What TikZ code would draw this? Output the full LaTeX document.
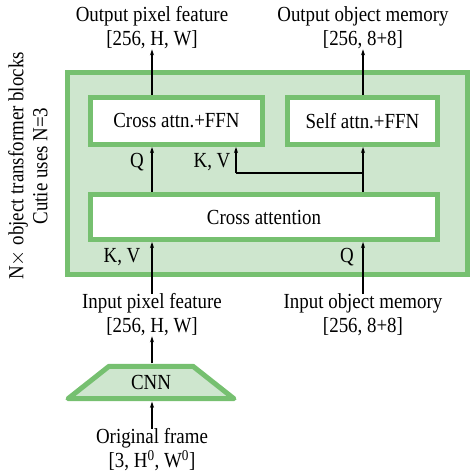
\documentclass[tikz,border=0pt]{standalone}
\usepackage{fontspec}
\setmainfont[FakeStretch=0.88]{Liberation Serif}
\usepackage{tikz}
\usetikzlibrary{shapes,arrows.meta,positioning,calc}

\definecolor{blockgreen}{RGB}{118,192,112}
\definecolor{blockfill}{RGB}{206,230,206}

\tikzset{
    flowarrow/.style={line width=1.1pt, -{Stealth[length=6pt,width=4pt]}},
    flowline/.style={line width=1.1pt},
    innerbox/.style={draw=blockgreen, line width=5pt, fill=white, rectangle, inner sep=0pt},
    txt/.style={align=center, inner sep=0pt, font=\fontsize{21.5}{24}\selectfont}
}

\begin{document}
\begin{tikzpicture}[x=1pt, y=-1pt]
    \useasboundingbox (0,0) rectangle (474,476);
    % transformer block
    \draw [draw=blockgreen, fill=blockfill, line width=5pt] (67.5,72.5) rectangle (467.5,274.5);

    \node [innerbox, minimum width=172, minimum height=47] (crossffn) at (176.5,121) {};
    \node [txt] at (crossffn) {Cross attn.+FFN};
    \node [innerbox, minimum width=150, minimum height=47] (selfffn) at (362.5,121) {};
    \node [txt] at (selfffn) {Self attn.+FFN};
    \node [innerbox, minimum width=347, minimum height=45] (crossatt) at (264,217) {};
    \node [txt] at (crossatt) {Cross attention};

    % inputs and outputs
    \node [txt] (outpix) at (152,28) {Output pixel feature\\{[256, H, W]}};
    \node [txt] (outobj) at (363,28) {Output object memory\\{[256, 8+8]}};
    \node [txt] (inpix) at (152,315) {Input pixel feature\\{[256, H, W]}};
    \node [txt] (inobj) at (363,315) {Input object memory\\{[256, 8+8]}};
    \node [minimum height=32, inner sep=0pt] (cnn) at (151,382.5) {};
    \draw [draw=blockgreen, fill=blockfill, line width=5pt, line join=round]
        ($(cnn.north)+(-42,0)$) -- ($(cnn.north)+(42,0)$) -- ($(cnn.south)+(83,0)$)
        -- ($(cnn.south)+(-83,0)$) -- cycle;
    \node [txt] at (cnn) {CNN};
    \node [txt] (frame) at (152,450) {Original frame\\{[3, H\textsuperscript{0}, W\textsuperscript{0}]}};

    \node [txt, rotate=90] (nblocks) at (28,166) {N$\times$ object transformer blocks\\Cutie uses N=3};

    % connectors
    \coordinate (branch) at (363,173);
    \coordinate (kvcorner) at (236,173);
    \draw [flowarrow] (frame.north -| inpix) -- ([yshift=-3pt]cnn.south -| inpix);
    \draw [flowarrow] ([yshift=3pt]cnn.north -| inpix) -- (inpix.south);
    \draw [flowarrow] (inpix.north) -- (crossatt.south -| inpix);
    \draw [flowarrow] (inobj.north) -- (crossatt.south -| inobj);
    \draw [flowarrow] (crossatt.north -| inpix) -- (crossffn.south -| inpix);
    \draw [flowarrow] (crossatt.north -| inobj) -- (selfffn.south -| inobj);
    \draw [flowline] (branch) -- (kvcorner);
    \draw [flowarrow] (kvcorner) -- (crossffn.south -| kvcorner);
    \draw [flowarrow] (crossffn.north -| outpix) -- (outpix.south);
    \draw [flowarrow] (selfffn.north -| outobj) -- (outobj.south);

    % labels
    \node [txt] (qtop) at (137,162) {Q};
    \node [txt] (kvtop) at (212,162) {K, V};
    \node [txt] (kvbottom) at (122,257) {K, V};
    \node [txt] (qbottom) at (347,257) {Q};
\end{tikzpicture}
\end{document}
